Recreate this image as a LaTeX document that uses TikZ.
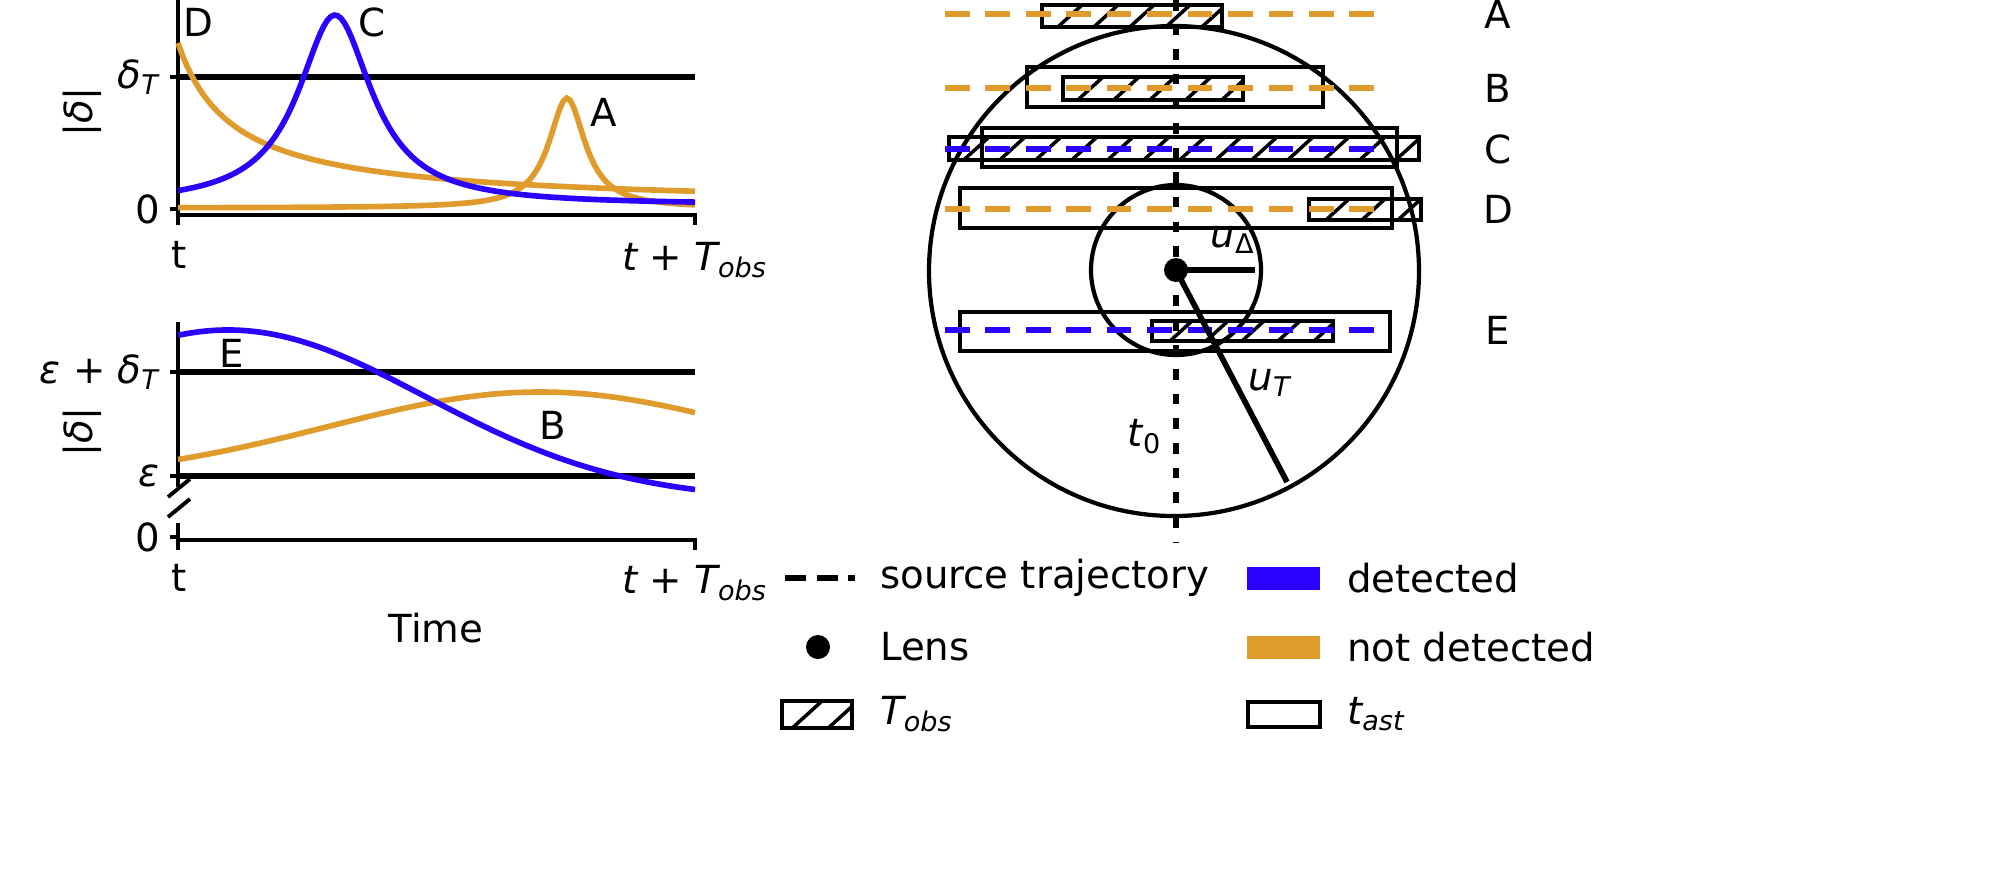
\documentclass[tikz,border=0pt]{standalone}
\usepackage{fontspec}
\setmainfont{DejaVu Sans}
\newcommand{\ii}[1]{{\itshape #1}}
\newcommand{\sbs}[1]{\textsubscript{\itshape #1}}
\begin{document}
\begin{tikzpicture}[x=0.01cm,y=-0.01cm,
  lbl/.style={font=\fontsize{11pt}{13pt}\selectfont,inner sep=1pt},
  ax/.style={line width=1.1pt},
  crv/.style={line width=1.6pt},
  traj/.style={line width=1.6pt,dash pattern=on 7pt off 4.5pt},
  box/.style={draw,line width=1.1pt}]
\definecolor{bl}{HTML}{2B00FF}
\definecolor{og}{HTML}{E09B2D}
\newcommand{\hrect}[4]{%
  \draw[box] (#1,#2) rectangle (#3,#4);
  \begin{scope}
  \clip (#1,#2) rectangle (#3,#4);
  \foreach \k in {0,36,...,540} {\draw[line width=1pt] ({#1+\k+40},#2) -- ({#1+\k+40-1.1*(#4-#2)},#4);}
  \end{scope}}
% ---------- top plot
\draw[ax] (178,0) -- (178,215) -- (695,215) -- (695,225);
\draw[ax] (178,215) -- (178,225);
\draw[ax] (170,77) -- (178,77); \draw[ax] (170,209) -- (178,209);
\draw[line width=1.5pt] (178,77) -- (695,77);
\draw[crv,og] plot[domain=178:695,samples=120] (\x,{207-164/(1+(\x-178)/55)});
\draw[crv,og] plot[domain=178:695,samples=150] (\x,{208-110/(1+((\x-567)/22)^2)});
\draw[crv,bl] plot[domain=178:695,samples=150] (\x,{205-190/(1+((\x-335)/45)^2)});
\node[lbl,anchor=east] (dT) at (164,77) {\ii{δ}\sbs{T}};
\node[lbl,anchor=east] (z1) at (164,209) {0};
\node[lbl,rotate=90] (yl1) at (82,112) {|\ii{δ}|};
\node[lbl] (t1) at (179,255) {t};
\node[lbl] (tT1) at (695,260) {\ii{t} + \ii{T}\sbs{obs}};
\node[lbl] (lD) at (198,22) {D};
\node[lbl] (lC) at (372,22) {C};
\node[lbl] (lA) at (604,112) {A};
% ---------- bottom plot
\draw[ax] (178,322) -- (178,487);
\draw[ax] (178,523) -- (178,550);
\draw[ax] (178,540) -- (695,540) -- (695,550);
\draw[ax] (168,497) -- (190,479); \draw[ax] (168,517) -- (190,499);
\draw[ax] (170,372) -- (178,372); \draw[ax] (170,476) -- (178,476); \draw[ax] (170,537) -- (178,537);
\draw[line width=1.5pt] (178,372) -- (695,372);
\draw[line width=1.5pt] (178,476) -- (695,476);
\draw[crv,og] plot[domain=178:695,samples=100] (\x,{480-88*exp(-((\x-540)/300)^2)});
\draw[crv,bl] plot[domain=178:695,samples=100] (\x,{500-170*exp(-((\x-228)/280)^2)});
\node[lbl,anchor=east] (edT) at (164,372) {\ii{ε} + \ii{δ}\sbs{T}};
\node[lbl,anchor=east] (e) at (164,476) {\ii{ε}};
\node[lbl,anchor=east] (z2) at (164,537) {0};
\node[lbl,rotate=90] (yl2) at (82,432) {|\ii{δ}|};
\node[lbl] (t2) at (179,578) {t};
\node[lbl] (tT2) at (695,583) {\ii{t} + \ii{T}\sbs{obs}};
\node[lbl] (time) at (436,628) {Time};
\node[lbl] (lE) at (232,353) {E};
\node[lbl] (lB) at (553,425) {B};
% ---------- right panel
\draw[line width=1.2pt] (1174,271) circle (245);
\draw[line width=1.2pt] (1176,270) circle (85);
\draw[line width=1.5pt,dash pattern=on 3pt off 4pt] (1176,0) -- (1176,542);
\draw[box] (1027,67) rectangle (1323,107);
\draw[box] (982,128) rectangle (1397,167);
\draw[box] (960,188) rectangle (1392,228);
\draw[box] (960,312) rectangle (1390,351);
\hrect{1042}{5}{1222}{27}
\hrect{1063}{77}{1243}{100}
\hrect{949}{137}{1419}{160}
\hrect{1309}{199}{1421}{220}
\hrect{1152}{321}{1333}{341}
\draw[traj,og] (945,14) -- (1380,14);
\draw[traj,og] (945,88) -- (1380,88);
\draw[traj,bl] (945,149) -- (1380,149);
\draw[traj,og] (945,209) -- (1380,209);
\draw[traj,bl] (945,330) -- (1380,330);
\node[circle,fill,inner sep=0pt,minimum size=0.24cm] (lens) at (1176,270) {};
\coordinate (ud) at (1255,270);
\coordinate (ut) at (1287,482);
\draw[line width=1.6pt] (lens.center) -- (ud);
\draw[line width=1.6pt] (lens.center) -- (ut);
\node[lbl] (lud) at (1233,240) {\ii{u}\textsubscript{Δ}};
\node[lbl] (lut) at (1270,383) {\ii{u}\sbs{T}};
\node[lbl] (lt0) at (1145,437) {\ii{t}\textsubscript{0}};
\foreach \n/\y in {A/14,B/88,C/149,D/209,E/330} \node[lbl] (r\n) at (1498,\y) {\n};
% ---------- legend
\draw[line width=1.6pt,dash pattern=on 6pt off 3pt] (785,578) -- (855,578);
\node[lbl,anchor=west] (ls) at (876,578) {source trajectory};
\node[circle,fill,inner sep=0pt,minimum size=0.24cm] (ld) at (818,647) {};
\node[lbl,anchor=west] (ll) at (876,647) {Lens};
\hrect{782}{701}{852}{728}
\node[lbl,anchor=west] (lt) at (876,714) {\ii{T}\sbs{obs}};
\fill[bl] (1247,567) rectangle (1320,590);
\node[lbl,anchor=west] (ldet) at (1343,578) {detected};
\fill[og] (1247,636) rectangle (1320,659);
\node[lbl,anchor=west] (lnd) at (1343,647) {not detected};
\draw[box] (1248,702) rectangle (1320,727);
\node[lbl,anchor=west] (lta) at (1343,714) {\ii{t}\sbs{ast}};
\pgfresetboundingbox
\useasboundingbox (0,0) rectangle (1996,887);
\end{tikzpicture}
\end{document}
